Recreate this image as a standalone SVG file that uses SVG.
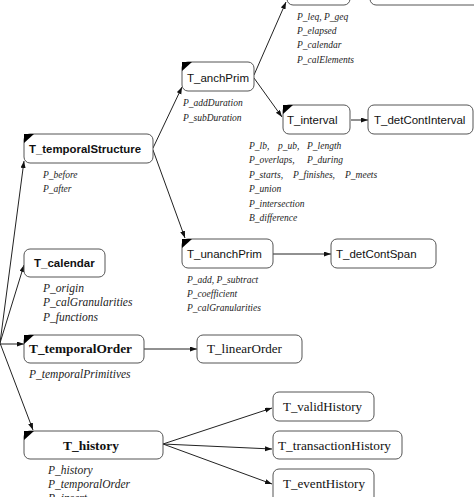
<svg xmlns="http://www.w3.org/2000/svg" width="474" height="497" viewBox="0 0 474 497">
<defs>
<marker id="ah" markerWidth="8" markerHeight="6" refX="7" refY="2.5" orient="auto" markerUnits="userSpaceOnUse">
<path d="M0,0 L7,2.5 L0,5 z" fill="#111"/>
</marker>
<style>
.box{fill:#fff;stroke:#555;stroke-width:1}
.cor{fill:#000}
.sans{font-family:"Liberation Sans",Arial,sans-serif;font-size:11.5px;fill:#111}
.sansb{font-family:"Liberation Sans",Arial,sans-serif;font-size:11.5px;font-weight:bold;fill:#111}
.ser{font-family:"Liberation Serif","Times New Roman",serif;font-size:12.5px;fill:#111}
.serb{font-family:"Liberation Serif","Times New Roman",serif;font-size:12.5px;font-weight:bold;fill:#111}
.it{font-family:"Liberation Serif","Times New Roman",serif;font-size:9.5px;font-style:italic;fill:#222}
.itl{font-family:"Liberation Serif","Times New Roman",serif;font-size:11.5px;font-style:italic;fill:#222}
.cn{fill:none;stroke:#222;stroke-width:1;marker-end:url(#ah)}
</style>
</defs>
<rect width="474" height="497" fill="#fff"/>
<g id="connectors">
<line class="cn" x1="0" y1="343" x2="24" y2="161"/>
<line class="cn" x1="0" y1="343" x2="24" y2="265"/>
<line class="cn" x1="0" y1="344" x2="24" y2="344"/>
<line class="cn" x1="0" y1="343" x2="33" y2="430"/>
<line class="cn" x1="153" y1="148" x2="182" y2="87"/>
<line class="cn" x1="153" y1="150" x2="185" y2="238"/>
<line class="cn" x1="254" y1="75" x2="286" y2="2"/>
<line class="cn" x1="254" y1="78" x2="282" y2="117"/>
<line class="cn" x1="351" y1="120" x2="368" y2="120"/>
<line class="cn" x1="273" y1="254" x2="331" y2="254"/>
<line class="cn" x1="144" y1="349" x2="197" y2="349"/>
<line class="cn" x1="163" y1="444" x2="272" y2="408"/>
<line class="cn" x1="163" y1="444" x2="272" y2="449"/>
<line class="cn" x1="163" y1="444" x2="272" y2="484"/>
</g>
<g id="top1">
<rect class="box" x="287" y="-25" width="63" height="30" rx="6"/>
<text class="it" x="297" y="20">P_leq, P_geq</text>
<text class="it" x="297" y="34">P_elapsed</text>
<text class="it" x="297" y="48">P_calendar</text>
<text class="it" x="297" y="63">P_calElements</text>
</g>
<g id="top2">
<rect class="box" x="370" y="-25" width="110" height="30" rx="6"/>
</g>
<g id="T_anchPrim">
<rect class="box" x="182" y="62" width="72" height="29" rx="6"/>
<path class="cor" d="M182,62 h10 l-10,9 z"/>
<text class="sans" x="187" y="82">T_anchPrim</text>
<text class="it" x="183" y="106">P_addDuration</text>
<text class="it" x="183" y="121">P_subDuration</text>
</g>
<g id="T_interval">
<rect class="box" x="283" y="105" width="67" height="29" rx="6"/>
<path class="cor" d="M283,105 h10 l-10,9 z"/>
<text class="sans" x="287" y="124">T_interval</text>
<text class="it" x="249" y="149"><tspan x="249">P_lb,</tspan><tspan x="278">p_ub,</tspan><tspan x="307">P_length</tspan></text>
<text class="it" x="249" y="163"><tspan x="249">P_overlaps,</tspan><tspan x="307">P_during</tspan></text>
<text class="it" x="249" y="178"><tspan x="249">P_starts,</tspan><tspan x="293">P_finishes,</tspan><tspan x="345">P_meets</tspan></text>
<text class="it" x="249" y="192">P_union</text>
<text class="it" x="249" y="207">P_intersection</text>
<text class="it" x="249" y="221">B_difference</text>
</g>
<g id="T_detContInterval">
<rect class="box" x="368" y="105" width="105" height="29" rx="6"/>
<text class="sans" x="374" y="124">T_detContInterval</text>
</g>
<g id="T_temporalStructure">
<rect class="box" x="24" y="134" width="129" height="29" rx="6"/>
<path class="cor" d="M24,134 h10 l-10,9 z"/>
<text class="sansb" x="29" y="153" textLength="112" lengthAdjust="spacingAndGlyphs">T_temporalStructure</text>
<text class="it" x="43" y="178">P_before</text>
<text class="it" x="43" y="192">P_after</text>
</g>
<g id="T_unanchPrim">
<rect class="box" x="182" y="239" width="91" height="29" rx="6"/>
<path class="cor" d="M182,239 h10 l-10,9 z"/>
<text class="sans" x="187" y="258">T_unanchPrim</text>
<text class="it" x="187" y="283">P_add, P_subtract</text>
<text class="it" x="187" y="297">P_coefficient</text>
<text class="it" x="187" y="311">P_calGranularities</text>
</g>
<g id="T_detContSpan">
<rect class="box" x="331" y="239" width="105" height="29" rx="6"/>
<text class="sans" x="336" y="258">T_detContSpan</text>
</g>
<g id="T_calendar">
<rect class="box" x="24" y="249" width="81" height="28" rx="6"/>
<text class="sansb" x="34" y="267">T_calendar</text>
<text class="itl" x="43" y="292">P_origin</text>
<text class="itl" x="43" y="306">P_calGranularities</text>
<text class="itl" x="43" y="321">P_functions</text>
</g>
<g id="T_temporalOrder">
<rect class="box" x="24" y="335" width="120" height="28" rx="6"/>
<path class="cor" d="M24,335 h10 l-10,9 z"/>
<text class="serb" x="29" y="353" textLength="103" lengthAdjust="spacingAndGlyphs">T_temporalOrder</text>
<text class="itl" x="29" y="378">P_temporalPrimitives</text>
</g>
<g id="T_linearOrder">
<rect class="box" x="197" y="335" width="105" height="28" rx="6"/>
<text class="ser" x="207" y="353" textLength="75" lengthAdjust="spacingAndGlyphs">T_linearOrder</text>
</g>
<g id="T_history">
<rect class="box" x="24" y="431" width="139" height="28" rx="6"/>
<path class="cor" d="M24,431 h10 l-10,9 z"/>
<text class="serb" x="63" y="450" textLength="56" lengthAdjust="spacingAndGlyphs">T_history</text>
<text class="itl" x="48" y="474">P_history</text>
<text class="itl" x="48" y="488">P_temporalOrder</text>
<text class="itl" x="48" y="502">P_insert</text>
</g>
<g id="T_validHistory">
<rect class="box" x="273" y="392" width="101" height="29" rx="6"/>
<text class="ser" x="283" y="411" textLength="79" lengthAdjust="spacingAndGlyphs">T_validHistory</text>
</g>
<g id="T_transactionHistory">
<rect class="box" x="273" y="431" width="129" height="28" rx="6"/>
<text class="ser" x="278" y="450" textLength="113" lengthAdjust="spacingAndGlyphs">T_transactionHistory</text>
</g>
<g id="T_eventHistory">
<rect class="box" x="273" y="469" width="101" height="40" rx="6"/>
<text class="ser" x="283" y="488" textLength="82" lengthAdjust="spacingAndGlyphs">T_eventHistory</text>
</g>
</svg>
